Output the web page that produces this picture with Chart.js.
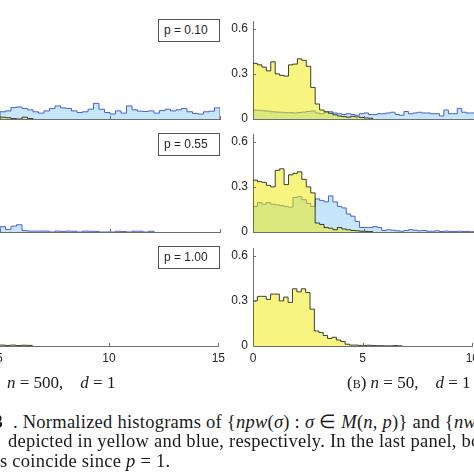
<!DOCTYPE html>
<html>
<head>
<meta charset="utf-8">
<script src="https://cdn.jsdelivr.net/npm/chart.js@4.4.0/dist/chart.umd.min.js"></script>
<style>
  html, body { margin: 0; padding: 0; background: #fff; }
  body { width: 474px; height: 474px; overflow: hidden; position: relative; }
  canvas { position: absolute; }
  .pbox { position: absolute; left: 158px; width: 62px; height: 23px; box-sizing: border-box;
          border: 1px solid #555; background: #fff; color: #262626; padding-left: 5px;
          font: 12px "Liberation Sans", Arial, sans-serif; line-height: 21px; }
  .cap { position: absolute; font: 18.5px "Liberation Serif", serif; color: #1a1a1a;
         letter-spacing: 0.25px; line-height: 20px; white-space: nowrap; }
  .sub { font-size: 17px; letter-spacing: 0; }
  .cap .pre { position: absolute; right: calc(100% + 10px); top: 0; }
  .sc { font-variant: small-caps; }
</style>
</head>
<body>
<canvas id="l1" width="365" height="132" style="left:-135px;top:9px"></canvas>
<canvas id="l2" width="365" height="132" style="left:-135px;top:122px"></canvas>
<canvas id="l3" width="365" height="132" style="left:-135px;top:236px"></canvas>
<canvas id="r1" width="256" height="132" style="left:228px;top:9px"></canvas>
<canvas id="r2" width="256" height="132" style="left:228px;top:122px"></canvas>
<canvas id="r3" width="256" height="132" style="left:228px;top:236px"></canvas>

<div class="pbox" style="top:19px">p = 0.10</div>
<div class="pbox" style="top:133px">p = 0.55</div>
<div class="pbox" style="top:246px">p = 1.00</div>

<div class="cap sub" style="left:7px;top:373px"><i>n</i> = 500,&emsp;<i>d</i> = 1</div>
<div class="cap sub" style="left:347px;top:373px"><span class="sc">(b)</span> <i>n</i> = 50,&emsp;<i>d</i> = 1</div>
<div class="cap" style="left:13px;top:412px"><span class="pre"><b>Figure 3</b></span>. Normalized histograms of {<i>npw</i>(<i>σ</i>) : <i>σ</i> ∈ <i>M</i>(<i>n, p</i>)} and {<i>nw</i>(<i>σ</i>) : <i>σ</i> ∈ <i>M</i>(<i>n, p</i>)}</div>
<div class="cap" style="left:8px;top:431px">depicted in yellow and blue, respectively. In the last panel, both</div>
<div class="cap" style="left:0px;top:451px">s coincide since <i>p</i> = 1.</div>

<script>
// bin layout
const binWidthRight = 0.2;   // n = 50 panels, bins start at 0
const binWidthLeft = 0.25;   // n = 500 panels, only the visible part from 5 on
const leftStart = 5;

const yTicks = [0, 0.3, 0.6];
const yTickLabels = ['0', '0.3', '0.6'];
const xTicksLeft = [0, 5, 10, 15];
const xTicksRight = [0, 5, 10];

// (b) n = 50
const yellowP10 = [0.37, 0.36, 0.345, 0.32, 0.38, 0.30, 0.29, 0.285, 0.36, 0.365, 0.40, 0.39, 0.35, 0.21,
  0.10, 0.06, 0.048, 0.038, 0.028, 0.02, 0.016, 0.012, 0.018, 0.014, 0.01, 0.007, 0.005];
const blueP10 = [0.06, 0.058, 0.055, 0.052, 0.048, 0.046, 0.045, 0.042, 0.042, 0.04, 0.044, 0.046, 0.05, 0.054,
  0.04, 0.035, 0.045, 0.048, 0.04, 0.035, 0.03, 0.035, 0.03, 0.025, 0.035, 0.04, 0.03, 0.03, 0.035, 0.035,
  0.04, 0.045, 0.03, 0.025, 0.05, 0.035, 0.04, 0.045, 0.04, 0.04, 0.035, 0.035, 0.02, 0.06, 0.035, 0.035,
  0.07, 0.045, 0.04, 0.04];
const yellowP55 = [0.345, 0.335, 0.33, 0.31, 0.30, 0.41, 0.42, 0.315, 0.38, 0.39, 0.40, 0.35, 0.30, 0.26,
  0.06, 0.05, 0.03, 0.025, 0.015, 0.03, 0.02, 0.015, 0.01, 0.008, 0.005, 0.004, 0.003];
const blueP55 = [0.17, 0.195, 0.185, 0.195, 0.185, 0.18, 0.175, 0.17, 0.165, 0.23, 0.235, 0.215, 0.19, 0.17,
  0.22, 0.21, 0.20, 0.24, 0.20, 0.17, 0.16, 0.12, 0.105, 0.07, 0.03, 0.03, 0.03, 0.036, 0.03, 0.01,
  0.015, 0.012, 0.008, 0.005, 0.01, 0.015, 0.012, 0.008, 0.01, 0.005, 0.005, 0.008, 0.003, 0.006, 0.004,
  0.003, 0.005, 0.003, 0.004, 0.002];
const yellowP100 = [0.30, 0.33, 0.33, 0.31, 0.345, 0.345, 0.30, 0.325, 0.29, 0.38, 0.36, 0.38, 0.355, 0.245,
  0.10, 0.09, 0.07, 0.05, 0.058, 0.04, 0.03, 0.012, 0.006, 0.006, 0.004, 0.004, 0.005, 0.003, 0.002, 0.002,
  0.001, 0.001, 0.003, 0.001];

// (a) n = 500, from x = 5
const yellowLeftP10 = [0.012, 0.008, 0.003, 0, 0.012, 0.003];
const blueLeftP10 = [0.048, 0.054, 0.076, 0.08, 0.07, 0.061, 0.048, 0.039, 0.054, 0.07, 0.087, 0.074, 0.07,
  0.054, 0.043, 0.048, 0.065, 0.104, 0.065, 0.043, 0.033, 0.054, 0.039, 0.087, 0.061, 0.052, 0.05, 0.054,
  0.039, 0.056, 0.065, 0.054, 0.061, 0.07, 0.048, 0.037, 0.033, 0.048, 0.052, 0.074];
const blueLeftP55 = [0.035, 0.017, 0.039, 0.048, 0.009, 0.006, 0.006, 0.006, 0.006, 0, 0.006, 0.004, 0.006,
  0.005, 0, 0.006, 0.005, 0.004, 0, 0, 0, 0.005, 0.003, 0, 0.005, 0.005, 0, 0.005];
const yellowLeftP100 = [0.006, 0.004, 0.006, 0.003, 0.005, 0.004];

const yellowFill = 'rgba(240,235,0,0.5)';
const yellowEdge = 'rgba(30,30,30,0.85)';
const blueFill = 'rgba(30,150,240,0.25)';
const blueEdge = 'rgb(70,100,200)';
const axisColor = '#6e6e6e';
const textColor = '#262626';

Chart.defaults.font.family = '"Liberation Sans", Arial, sans-serif';
Chart.defaults.font.size = 12;
Chart.defaults.color = textColor;

function steps(values, start, width) {
  const pts = [{ x: start, y: 0 }];
  values.forEach((v, i) => pts.push({ x: start + i * width, y: v }));
  pts.push({ x: start + values.length * width, y: 0 });
  return pts;
}

function hist(values, start, width, yellow) {
  return {
    data: steps(values, start, width),
    stepped: true,
    fill: 'origin',
    backgroundColor: yellow ? yellowFill : blueFill,
    borderColor: yellow ? yellowEdge : blueEdge,
    borderWidth: 1,
    pointRadius: 0,
    order: yellow ? 1 : 2
  };
}

// MATLAB style ticks pointing into the axes
const inwardTicks = {
  id: 'inwardTicks',
  afterDraw(chart) {
    const { ctx, chartArea, scales } = chart;
    ctx.save();
    ctx.strokeStyle = axisColor;
    ctx.lineWidth = 1;
    ctx.beginPath();
    scales.x.ticks.forEach(t => {
      const px = Math.round(scales.x.getPixelForValue(t.value)) + 0.5;
      ctx.moveTo(px, chartArea.bottom);
      ctx.lineTo(px, chartArea.bottom - 3);
    });
    scales.y.ticks.forEach(t => {
      const py = Math.round(scales.y.getPixelForValue(t.value)) + 0.5;
      ctx.moveTo(chartArea.left, py);
      ctx.lineTo(chartArea.left + 3, py);
    });
    ctx.stroke();
    ctx.restore();
  }
};

function panel(id, datasets, xMax, xTicks, showLabels, padRight) {
  new Chart(document.getElementById(id), {
    type: 'line',
    data: { datasets: datasets },
    options: {
      responsive: false,
      animation: false,
      layout: { padding: { top: 10, right: padRight, left: 0, bottom: 0 } },
      plugins: { legend: { display: false }, tooltip: { enabled: false } },
      scales: {
        x: {
          type: 'linear', min: 0, max: xMax,
          afterBuildTicks: s => { s.ticks = xTicks.map(v => ({ value: v })); },
          afterFit: s => { s.height = 22; },
          grid: { display: true, drawOnChartArea: false, drawTicks: false },
          border: { display: true, color: axisColor, width: 1 },
          ticks: { display: showLabels, padding: 5, maxRotation: 0, callback: v => String(v) }
        },
        y: {
          min: 0, max: 0.65,
          afterBuildTicks: s => { s.ticks = yTicks.map(v => ({ value: v })); },
          afterFit: s => { s.width = 25; },
          grid: { display: true, drawOnChartArea: false, drawTicks: false },
          border: { display: true, color: axisColor, width: 1 },
          ticks: { padding: 5, callback: (v, i) => yTickLabels[i] }
        }
      }
    },
    plugins: [inwardTicks]
  });
}

panel('r1', [hist(yellowP10, 0, binWidthRight, true), hist(blueP10, 0, binWidthRight, false)], 10, xTicksRight, false, 9);
panel('r2', [hist(yellowP55, 0, binWidthRight, true), hist(blueP55, 0, binWidthRight, false)], 10, xTicksRight, false, 9);
panel('r3', [hist(yellowP100, 0, binWidthRight, true)], 10, xTicksRight, true, 9);

panel('l1', [hist(yellowLeftP10, leftStart, binWidthLeft, true), hist(blueLeftP10, leftStart, binWidthLeft, false)], 15, xTicksLeft, false, 10);
panel('l2', [hist(blueLeftP55, leftStart, binWidthLeft, false)], 15, xTicksLeft, false, 10);
panel('l3', [hist(yellowLeftP100, leftStart, binWidthLeft, true)], 15, xTicksLeft, true, 10);
</script>
</body>
</html>
